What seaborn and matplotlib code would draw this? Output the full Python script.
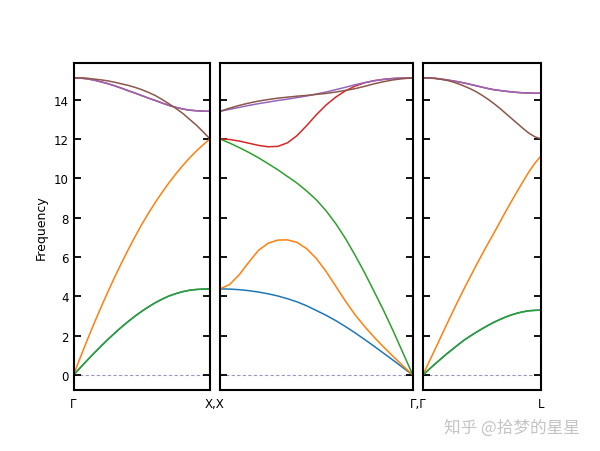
import numpy as np
import pandas as pd
import seaborn as sns
import matplotlib
matplotlib.use("Agg")
from matplotlib import pyplot as plt
from matplotlib.transforms import ScaledTranslation

# fractional position along each q-path segment
kpts = [0.0, 0.05, 0.1, 0.15, 0.2, 0.25, 0.3, 0.35, 0.4, 0.45, 0.5,
        0.55, 0.6, 0.65, 0.7, 0.75, 0.8, 0.85, 0.9, 0.95, 1.0]

seg_length = [1.0, 1.414, 0.866]
tick_labels = ["Γ", "X,X", "Γ,Γ", "L"]

# Γ -> X
gx_ta = [0.0, 0.38, 0.75, 1.11, 1.46, 1.8, 2.12, 2.43, 2.72, 2.99, 3.24,
         3.47, 3.68, 3.86, 4.02, 4.14, 4.24, 4.31, 4.35, 4.37, 4.38]
gx_la = [0.0, 0.9, 1.77, 2.61, 3.42, 4.2, 4.95, 5.67, 6.36, 7.02, 7.65,
         8.23, 8.78, 9.29, 9.77, 10.22, 10.64, 11.03, 11.38, 11.7, 12.0]
gx_to = [15.1, 15.09, 15.05, 14.99, 14.9, 14.81, 14.7, 14.58, 14.45, 14.33, 14.2,
         14.07, 13.95, 13.82, 13.7, 13.6, 13.52, 13.46, 13.43, 13.41, 13.4]
gx_lo = [15.1, 15.1, 15.08, 15.04, 15.0, 14.95, 14.88, 14.8, 14.72, 14.62, 14.5,
         14.36, 14.2, 14.0, 13.78, 13.55, 13.3, 13.0, 12.7, 12.36, 12.0]

# X -> Γ
xg_b0 = [4.38, 4.37, 4.34, 4.29, 4.22, 4.13, 4.02, 3.88, 3.72, 3.52, 3.28,
         3.04, 2.77, 2.47, 2.15, 1.81, 1.46, 1.1, 0.74, 0.37, 0.0]
xg_b1 = [4.38, 4.6, 5.1, 5.74, 6.34, 6.7, 6.86, 6.87, 6.74, 6.42, 5.92,
         5.27, 4.52, 3.77, 3.07, 2.47, 1.92, 1.41, 0.93, 0.46, 0.0]
xg_b2 = [12.0, 11.79, 11.56, 11.31, 11.04, 10.74, 10.43, 10.09, 9.75, 9.35, 8.9,
         8.35, 7.7, 6.95, 6.1, 5.2, 4.23, 3.25, 2.2, 1.1, 0.0]
xg_b3 = [12.0, 11.97, 11.89, 11.78, 11.67, 11.6, 11.62, 11.8, 12.17, 12.68, 13.23,
         13.72, 14.12, 14.44, 14.68, 14.85, 14.96, 15.03, 15.07, 15.09, 15.1]
xg_b4 = [13.4, 13.5, 13.6, 13.7, 13.79, 13.87, 13.95, 14.02, 14.1, 14.18, 14.28,
         14.38, 14.5, 14.62, 14.75, 14.86, 14.95, 15.02, 15.07, 15.09, 15.1]
xg_b5 = [13.4, 13.56, 13.7, 13.82, 13.92, 14.0, 14.07, 14.12, 14.17, 14.21, 14.26,
         14.31, 14.38, 14.46, 14.55, 14.67, 14.8, 14.91, 15.0, 15.06, 15.1]

# Γ -> L
gl_ta = [0.0, 0.28, 0.55, 0.81, 1.07, 1.31, 1.55, 1.78, 1.98, 2.17, 2.35,
         2.52, 2.68, 2.82, 2.95, 3.06, 3.15, 3.22, 3.27, 3.29, 3.3]
gl_la = [0.0, 0.64, 1.27, 1.91, 2.55, 3.18, 3.8, 4.4, 4.98, 5.56, 6.12,
         6.67, 7.2, 7.75, 8.3, 8.83, 9.35, 9.86, 10.35, 10.78, 11.13]
gl_to = [15.1, 15.1, 15.08, 15.04, 15.0, 14.95, 14.9, 14.84, 14.77, 14.7, 14.63,
         14.56, 14.5, 14.46, 14.42, 14.39, 14.36, 14.34, 14.33, 14.32, 14.32]
gl_lo = [15.1, 15.09, 15.07, 15.03, 14.98, 14.9, 14.8, 14.68, 14.55, 14.4, 14.22,
         14.02, 13.8, 13.56, 13.3, 13.04, 12.78, 12.52, 12.28, 12.1, 12.0]

# (segment, band, frequencies); degenerate branches share values
bands = [
    (0, 0, gx_ta), (0, 1, gx_la), (0, 2, gx_ta),
    (0, 3, gx_to), (0, 4, gx_to), (0, 5, gx_lo),
    (1, 0, xg_b0), (1, 1, xg_b1), (1, 2, xg_b2),
    (1, 3, xg_b3), (1, 4, xg_b4), (1, 5, xg_b5),
    (2, 0, gl_ta), (2, 1, gl_la), (2, 2, gl_ta),
    (2, 3, gl_to), (2, 4, gl_to), (2, 5, gl_lo),
]

rows = []
for seg, band, fs in bands:
    for k, f in zip(kpts, fs):
        rows.append({"seg": seg, "band": band, "q": k * seg_length[seg], "freq": f})
df = pd.DataFrame(rows)

sns.set_style("ticks")
plt.rcParams["font.family"] = ["DejaVu Sans", "Noto Sans CJK SC"]
plt.rcParams.update({"axes.edgecolor": "black", "xtick.color": "black",
                     "ytick.color": "black", "text.color": "black",
                     "axes.labelcolor": "black"})

fig = plt.figure(figsize=(6.0, 4.52), dpi=100)
gs = fig.add_gridspec(1, 3, width_ratios=seg_length, left=0.1225, right=0.9017,
                      top=0.8584, bottom=0.135, wspace=0.067)
axes = []
for i in range(3):
    ax = fig.add_subplot(gs[0, i], sharey=axes[0] if axes else None)
    axes.append(ax)

palette = sns.color_palette("tab10", 6)
for i, ax in enumerate(axes):
    sub = df[df["seg"] == i]
    ax.axhline(0, ls=(0, (3, 2)), lw=0.8, color="#9a9ac0", zorder=0)
    sns.lineplot(data=sub, x="q", y="freq", hue="band", palette=palette,
                 estimator=None, sort=False, lw=1.1, legend=False, ax=ax)
    ax.set_xlim(0, seg_length[i])
    ax.set_xlabel("")
    ax.set_ylabel("")
    for s in ax.spines.values():
        s.set_linewidth(1.5)
        s.set_visible(True)
    ax.tick_params(axis="y", direction="in", left=True, right=True,
                   length=5, width=1.3, labelsize=8.5)
    ax.tick_params(axis="x", direction="in", length=0, labelsize=8.5, pad=5)
    if i > 0:
        ax.tick_params(axis="y", labelleft=False)

axes[0].set_ylim(-0.755, 15.855)
axes[0].set_yticks([0, 2, 4, 6, 8, 10, 12, 14])
axes[0].set_ylabel("Frequency", fontsize=9)

axes[0].set_xticks([0, seg_length[0]], [tick_labels[0], tick_labels[1]])
axes[1].set_xticks([seg_length[1]], [tick_labels[2]])
axes[2].set_xticks([seg_length[2]], [tick_labels[3]])

# joint labels sit in the middle of the gap between panels
shift = ScaledTranslation(5 / 100, 0, fig.dpi_scale_trans)
for lab in [axes[0].get_xticklabels()[1], axes[1].get_xticklabels()[0]]:
    lab.set_transform(lab.get_transform() + shift)

fig.text(0.853, 0.053, "知乎 @拾梦的星星", ha="center", va="center",
         fontsize=12, color="#c4c4c4", family=["Noto Sans CJK SC", "DejaVu Sans"])

fig.savefig("out.png", dpi=100)
